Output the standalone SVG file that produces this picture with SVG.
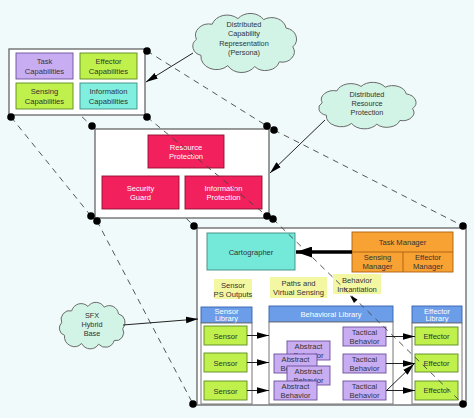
<svg xmlns="http://www.w3.org/2000/svg" xmlns:xlink="http://www.w3.org/1999/xlink" width="474" height="418" viewBox="0 0 474 418">
<style>
text{font-family:"Liberation Sans",Arial,sans-serif;font-size:7.6px;fill:#333;text-anchor:middle}
.w{fill:#fff}
.cl{font-size:7.3px}
.frame{fill:#fff;stroke:#666;stroke-width:1.3}
.lav{fill:#c9adf3;stroke:#6a4e9a;stroke-width:0.9}
.lime{fill:#bff04c;stroke:#5b8a22;stroke-width:0.9}
.cyan{fill:#80efe0;stroke:#3c8d80;stroke-width:0.9}
.carto{fill:#74e8d9;stroke:#3c8d80;stroke-width:0.9}
.red{fill:#f2205c;stroke:#8e1034;stroke-width:0.9}
.org{fill:#f8a233;stroke:#a8600e;stroke-width:0.9}
.blue{fill:#6c9de8;stroke:#3462ae;stroke-width:0.9}
.body{fill:#fff;stroke:#777;stroke-width:1}
.yel{fill:#f4f7a2}
.dash{fill:none;stroke:#444;stroke-width:0.9;stroke-dasharray:6 5}
.dot{fill:#000}
.arr{fill:none;stroke:#222;stroke-width:1;marker-end:url(#ah)}
.cloud{fill:#d2f4e6;stroke:#6a6a6a;stroke-width:1}
</style>
<defs>
<marker id="ah" markerWidth="12" markerHeight="8" refX="12" refY="4" orient="auto" markerUnits="userSpaceOnUse"><path d="M0,0.8 L12,4 L0,7.2 Z" fill="#000"/></marker>
<marker id="ahb" markerWidth="16" markerHeight="11" refX="16" refY="5.5" orient="auto" markerUnits="userSpaceOnUse"><path d="M0,0 L16,5.5 L0,11 Z" fill="#000"/></marker>
<path id="cloudp" vector-effect="non-scaling-stroke" d="M12,45 A10,10 0 0 1 8,28 A12,12 0 0 1 22,12 A14,14 0 0 1 45,6 A14,14 0 0 1 68,7 A13,13 0 0 1 88,16 A12,12 0 0 1 94,36 A11,11 0 0 1 82,52 A13,13 0 0 1 60,57 A14,14 0 0 1 36,56 A14,14 0 0 1 12,45 Z"/>
</defs>
<rect x="0" y="0" width="474" height="418" fill="#f1fafa"/>

<g id="projection-back">
<line class="dash" x1="9" y1="50" x2="92" y2="126"/>
<line class="dash" x1="92" y1="126" x2="194" y2="226"/>
</g>

<g id="capabilities">
<rect class="frame" x="9" y="49" width="136" height="66"/>
<g id="task-capabilities"><rect class="lav" x="16" y="53" width="57" height="26"/><text x="44.5" y="64">Task</text><text x="44.5" y="74">Capabilities</text></g>
<g id="effector-capabilities"><rect class="lime" x="80" y="53" width="57" height="26"/><text x="108.5" y="64">Effector</text><text x="108.5" y="74">Capabilities</text></g>
<g id="sensing-capabilities"><rect class="lime" x="16" y="83" width="57" height="26"/><text x="44.5" y="93.5">Sensing</text><text x="44.5" y="103.5">Capabilities</text></g>
<g id="information-capabilities"><rect class="cyan" x="80" y="83" width="57" height="26"/><text x="108.5" y="93.5">Information</text><text x="108.5" y="103.5">Capabilities</text></g>
</g>

<g id="protection">
<rect class="frame" x="95" y="129" width="174" height="89"/>
<g id="resource-protection"><rect class="red" x="148" y="135" width="76" height="33"/><text class="w" x="186" y="150">Resource</text><text class="w" x="186" y="159">Protection</text></g>
<g id="security-guard"><rect class="red" x="102" y="176" width="77" height="33"/><text class="w" x="140.5" y="191">Security</text><text class="w" x="140.5" y="200">Guard</text></g>
<g id="information-protection"><rect class="red" x="185" y="176" width="77" height="33"/><text class="w" x="223.5" y="191">Information</text><text class="w" x="223.5" y="200">Protection</text></g>
</g>

<g id="architecture">
<rect class="frame" x="197" y="228" width="269" height="177"/>
<g id="cartographer"><rect class="carto" x="207" y="233" width="88" height="37"/><text x="251" y="254.5">Cartographer</text></g>
<g id="task-manager"><rect class="org" x="352" y="232" width="101" height="40"/><line x1="352" y1="252" x2="453" y2="252" stroke="#a8600e" stroke-width="0.9"/><line x1="403" y1="252" x2="403" y2="272" stroke="#a8600e" stroke-width="0.9"/><text x="402.5" y="244.5">Task Manager</text><text x="377.5" y="259.5">Sensing</text><text x="377.5" y="268.5">Manager</text><text x="428" y="259.5">Effector</text><text x="428" y="268.5">Manager</text></g>
<g id="sensor-ps-outputs"><rect class="yel" x="214" y="279" width="38" height="20"/><text x="233" y="287.5">Sensor</text><text x="233" y="296.5">PS Outputs</text></g>
<g id="paths-virtual-sensing"><rect class="yel" x="270" y="277" width="57" height="21"/><text x="298.5" y="285.5">Paths and</text><text x="298.5" y="294.5">Virtual Sensing</text></g>
<g id="behavior-intrantiation"><rect class="yel" x="333" y="274" width="48" height="20"/><text x="357" y="283">Behavior</text><text x="357" y="292">Intrantiation</text></g>
<g id="sensor-library"><rect class="blue" x="201" y="307" width="51" height="16"/><text class="w" x="226.5" y="313.5">Sensor</text><text class="w" x="226.5" y="321">Library</text><rect class="body" x="201" y="323" width="51" height="81"/></g>
<g id="sensor-1"><rect class="lime" x="204" y="326" width="43" height="19"/><text x="225.5" y="338.5">Sensor</text></g>
<g id="sensor-2"><rect class="lime" x="204" y="353" width="43" height="19"/><text x="225.5" y="365.5">Sensor</text></g>
<g id="sensor-3"><rect class="lime" x="204" y="381" width="43" height="19"/><text x="225.5" y="393.5">Sensor</text></g>
<g id="behavioral-library"><rect class="blue" x="269" y="306" width="124" height="16"/><text class="w" x="331" y="316.5">Behavioral Library</text><rect class="body" x="269" y="322" width="124" height="82"/></g>
<g id="abstract-1"><rect class="lav" x="287" y="341" width="43" height="19"/><text x="308.5" y="349">Abstract</text><text x="308.5" y="358">Behavior</text></g>
<g id="abstract-2"><rect class="lav" x="274" y="354" width="43" height="19"/><text x="295.5" y="362">Abstract</text><text x="295.5" y="371">Behavior</text></g>
<g id="abstract-3"><rect class="lav" x="287" y="366" width="43" height="19"/><text x="308.5" y="374">Abstract</text><text x="308.5" y="383">Behavior</text></g>
<g id="abstract-4"><rect class="lav" x="274" y="381" width="43" height="19"/><text x="295.5" y="389">Abstract</text><text x="295.5" y="398">Behavior</text></g>
<g id="tactical-1"><rect class="lav" x="343" y="327" width="43" height="19"/><text x="364.5" y="335">Tactical</text><text x="364.5" y="344">Behavior</text></g>
<g id="tactical-2"><rect class="lav" x="343" y="354" width="43" height="19"/><text x="364.5" y="362">Tactical</text><text x="364.5" y="371">Behavior</text></g>
<g id="tactical-3"><rect class="lav" x="343" y="381" width="43" height="19"/><text x="364.5" y="389">Tactical</text><text x="364.5" y="398">Behavior</text></g>
<g id="effector-library"><rect class="blue" x="412" y="306" width="50" height="17"/><text class="w" x="437" y="313.5">Effector</text><text class="w" x="437" y="321">Library</text><rect class="body" x="412" y="323" width="50" height="81"/></g>
<g id="effector-1"><rect class="lime" x="415" y="327" width="43" height="18"/><text x="436.5" y="338.5">Effector</text></g>
<g id="effector-2"><rect class="lime" x="415" y="354" width="43" height="18"/><text x="436.5" y="365.5">Effector</text></g>
<g id="effector-3"><rect class="lime" x="415" y="381" width="43" height="19"/><text x="436.5" y="393">Effector</text></g>
</g>

<g id="cloud-persona"><use xlink:href="#cloudp" class="cloud" transform="translate(187.5,13) scale(1.12,0.94)"/><text class="cl" x="244" y="27">Distributed</text><text class="cl" x="244" y="36">Capability</text><text class="cl" x="244" y="45.5">Representation</text><text class="cl" x="244" y="55">(Persona)</text></g>
<g id="cloud-resource"><use xlink:href="#cloudp" class="cloud" transform="translate(313.8,82) scale(1.05,0.74)"/><text class="cl" x="367" y="96.5">Distributed</text><text class="cl" x="367" y="106">Resource</text><text class="cl" x="367" y="115">Protection</text></g>
<g id="cloud-sfx"><use xlink:href="#cloudp" class="cloud" transform="translate(56,302) scale(0.71,0.74)"/><text class="cl" x="92" y="317.5">SFX</text><text class="cl" x="92" y="326.5">Hybrid</text><text class="cl" x="92" y="335.5">Base</text></g>

<g id="connectors">
<line class="dash" x1="147" y1="51" x2="267" y2="126"/>
<line class="dash" x1="11" y1="117" x2="91" y2="216"/>
<line class="dash" x1="147" y1="117" x2="267" y2="216"/>
<line class="dash" x1="274" y1="130" x2="463" y2="226"/>
<line class="dash" x1="97" y1="221" x2="193" y2="404"/>
<line class="dash" x1="273" y1="219" x2="463" y2="404"/>
<path d="M350,295.5 L357.5,299.5 L354,303 Z" fill="#000"/>
<line class="arr" x1="193" y1="53" x2="146" y2="82"/>
<line class="arr" x1="325" y1="120" x2="270" y2="173"/>
<line class="arr" x1="123" y1="325" x2="198" y2="319"/>
<line x1="352" y1="252" x2="296" y2="252" stroke="#000" stroke-width="3.5" marker-end="url(#ahb)"/>
<line class="arr" x1="247" y1="335.5" x2="269" y2="335.5"/>
<line class="arr" x1="247" y1="362.5" x2="269" y2="362.5"/>
<line class="arr" x1="247" y1="390.5" x2="269" y2="390.5"/>
<line class="arr" x1="386" y1="336.5" x2="415" y2="336.5"/>
<line class="arr" x1="386" y1="363.5" x2="415" y2="363.5"/>
<line class="arr" x1="386" y1="390.5" x2="415" y2="390.5"/>
<line class="arr" x1="386" y1="391" x2="414" y2="364"/>
</g>

<g id="corner-dots">
<circle class="dot" cx="147" cy="51" r="3.8"/>
<circle class="dot" cx="11" cy="117" r="3.8"/>
<circle class="dot" cx="147" cy="117" r="3.8"/>
<circle class="dot" cx="92" cy="126" r="3.8"/>
<circle class="dot" cx="267" cy="126" r="3.8"/>
<circle class="dot" cx="274" cy="130" r="3.8"/>
<circle class="dot" cx="91" cy="216" r="3.8"/>
<circle class="dot" cx="97" cy="221" r="3.8"/>
<circle class="dot" cx="267" cy="216" r="3.8"/>
<circle class="dot" cx="273" cy="219" r="3.8"/>
<circle class="dot" cx="194" cy="226" r="3.8"/>
<circle class="dot" cx="463" cy="226" r="3.8"/>
<circle class="dot" cx="193" cy="404" r="3.8"/>
<circle class="dot" cx="463" cy="404" r="3.8"/>
</g>
</svg>
